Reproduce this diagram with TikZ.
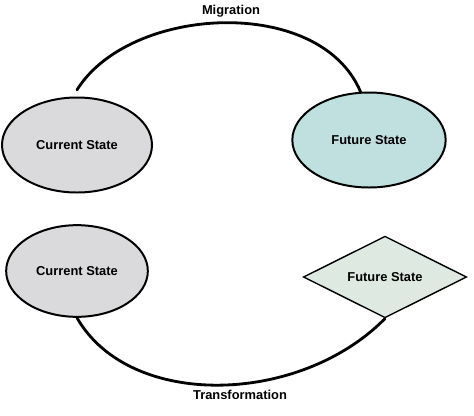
\documentclass[tikz,border=0pt]{standalone}
\usepackage{fontspec}
\setmainfont{Liberation Sans}
\usepackage{xcolor}
\usetikzlibrary{arrows.meta,positioning,shapes.geometric}
\definecolor{stategrey}{HTML}{DADADD}
\definecolor{stateteal}{HTML}{C0E0E0}
\definecolor{stategreen}{HTML}{DDE9E1}
\tikzset{
  statebox/.style={ellipse, draw, line width=1.7pt, inner sep=0pt, align=center, font=\fontsize{11}{13}\selectfont\bfseries},
  kitebox/.style={diamond, draw, line width=1.2pt, inner sep=0pt, aspect=2, align=center, font=\fontsize{11}{13}\selectfont\bfseries},
  line/.style={line width=2.4pt, line cap=round},
  tag/.style={font=\fontsize{11}{13}\selectfont\bfseries}
}
\begin{document}
\begin{tikzpicture}[x=0.03cm, y=-0.03cm]
  \useasboundingbox (0,0) rectangle (474,415);
  \node[statebox, fill=stategrey, minimum width=4.5cm, minimum height=2.85cm] (current1) at (77,145) {Current State};
  \node[statebox, fill=stateteal, minimum width=4.6cm, minimum height=2.85cm] (future1) at (369,140) {Future State};
  \node[statebox, fill=stategrey, minimum width=4.25cm, minimum height=2.75cm] (current2) at (77,271) {Current State};
  \node[kitebox, fill=stategreen, minimum width=4.9cm, minimum height=2.45cm] (future2) at (385,277) {Future State};
  \node[tag] (migration) at (231,11) {Migration};
  \node[tag] (transformation) at (240,395) {Transformation};
  \draw[line] ([yshift=0.2cm]current1.north) .. controls (130,5) and (320,-5) .. (future1.100);
  \draw[line] (current2.south) .. controls (130,410) and (300,405) .. (future2.south);
\end{tikzpicture}
\end{document}
